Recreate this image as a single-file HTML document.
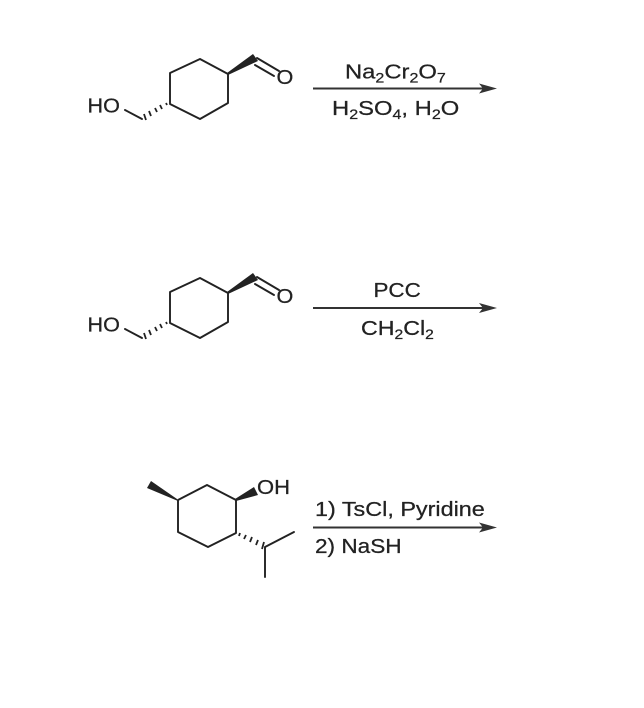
<!DOCTYPE html>
<html>
<head>
<meta charset="utf-8">
<style>
html,body{margin:0;padding:0;background:#fff;width:644px;height:708px;overflow:hidden}
svg{display:block}
text{font-family:"Liberation Sans",sans-serif;fill:#222;font-size:20px;stroke:#222;stroke-width:.25}
.s{font-size:13.5px}
.b{stroke:#222;stroke-width:1.9;fill:none;stroke-linejoin:round;stroke-linecap:round}
.h{stroke:#222;stroke-width:1.8;fill:none}
.a{stroke:#333;stroke-width:2;fill:none}
</style>
</head>
<body>
<svg width="644" height="708" viewBox="0 0 644 708" xmlns="http://www.w3.org/2000/svg">
<defs>
<g id="mol">
<polygon class="b" points="200,59 228,74 228,103 200,119 170,104 170,73"/>
<polygon points="228,75 227,73 253,54 258,61" fill="#222"/>
<path class="b" d="M257,58 L279,71 M255,65 L274,76"/>
<path class="b" d="M125,110 L142,119"/>
<path class="h" d="M166,103 L167,105 M160,105 L162,109 M155,108 L157,112 M149,111 L151,116 M144,114 L146,120"/>
</g>
<g id="arrow">
<path class="a" d="M313,0 H485"/>
<polygon points="479,-5 497,0 479,5 483,0" fill="#333"/>
</g>
</defs>

<!-- Reaction 1 -->
<use href="#mol"/>
<text transform="translate(87.500,112.500) scale(1.08,1)">HO</text>
<text transform="translate(276.500,84) scale(1.08,1)">O</text>
<use href="#arrow" y="88.500"/>
<text transform="translate(345,78.500) scale(1.19,1)">Na<tspan class="s" dy="4">2</tspan><tspan dy="-4">Cr</tspan><tspan class="s" dy="4">2</tspan><tspan dy="-4">O</tspan><tspan class="s" dy="4">7</tspan></text>
<text transform="translate(332,115) scale(1.19,1)">H<tspan class="s" dy="4">2</tspan><tspan dy="-4">SO</tspan><tspan class="s" dy="4">4</tspan><tspan dy="-4">, H</tspan><tspan class="s" dy="4">2</tspan><tspan dy="-4">O</tspan></text>

<!-- Reaction 2 -->
<use href="#mol" y="219"/>
<text transform="translate(87.500,331.500) scale(1.08,1)">HO</text>
<text transform="translate(276.500,303) scale(1.08,1)">O</text>
<use href="#arrow" y="308"/>
<text transform="translate(373.500,297) scale(1.12,1)">PCC</text>
<text transform="translate(361,335) scale(1.16,1)">CH<tspan class="s" dy="4">2</tspan><tspan dy="-4">Cl</tspan><tspan class="s" dy="4">2</tspan></text>

<!-- Reaction 3 -->
<polygon class="b" points="207,485 236,500 236,533 208,547 178,532 178,500"/>
<polygon points="178,501 177,499 151,481 147,488" fill="#222"/>
<polygon points="236,501 235,499 254,487 258,495" fill="#222"/>
<path class="h" d="M240,533 L239,536 M246,535 L244,539 M252,537 L250,542 M258,540 L256,545 M264,542 L262,549"/>
<path class="b" d="M265,547 L294,532 M265,547 L265,577"/>
<text transform="translate(257,494) scale(1.1,1)">OH</text>
<use href="#arrow" y="527.500"/>
<text transform="translate(315,516) scale(1.17,1)">1) TsCl, Pyridine</text>
<text transform="translate(315,553) scale(1.13,1)">2) NaSH</text>
</svg>
</body>
</html>
